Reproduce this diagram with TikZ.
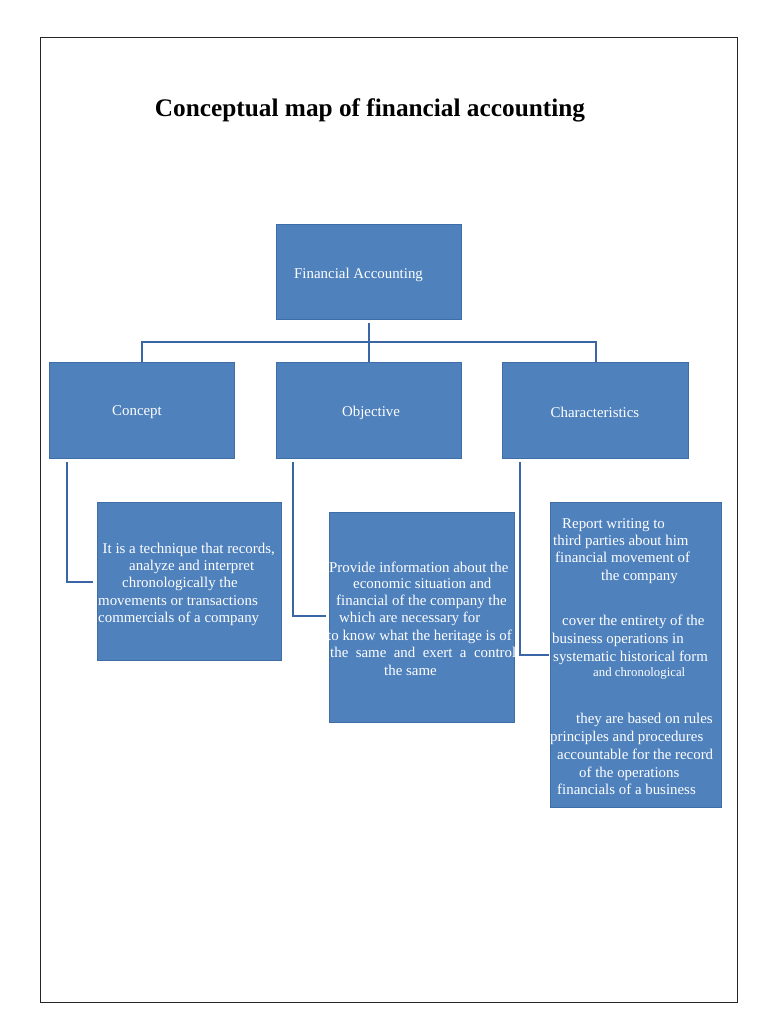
\documentclass[tikz,border=0pt]{standalone}
\usepackage{fontspec}
\setmainfont{Liberation Serif}
\definecolor{boxblue}{HTML}{4F81BD}
\definecolor{boxedge}{HTML}{3F6DA6}
\definecolor{linkblue}{HTML}{3A66A7}
\begin{document}
\begin{tikzpicture}[x=1pt,y=-1pt,
  bluebox/.style={draw=boxedge, line width=0.8pt, fill=boxblue, inner sep=0},
  link/.style={draw=linkblue, line width=2.6pt},
  ln/.style={anchor=base west, inner sep=0, text=white, font=\fontsize{14.9}{17}\selectfont},
  lbl/.style={inner sep=0, text=white, font=\fontsize{14.9}{17}\selectfont}]
\useasboundingbox (0,0) rectangle (768,1024);
\fill[white] (0,0) rectangle (768,1024);
\node[draw=black!85, line width=1pt, inner sep=0, minimum width=697pt, minimum height=965pt, anchor=north west] (frame) at (39.5,37) {};
\node[inner sep=0, font=\fontsize{25.3}{30}\selectfont\bfseries] (title) at (370,110) {Conceptual map of financial accounting};
% boxes
\node[bluebox, minimum width=185pt, minimum height=95pt, anchor=north west] (fa) at (276,224) {};
\node[bluebox, minimum width=185pt, minimum height=96pt, anchor=north west] (concept) at (49,362) {};
\node[bluebox, minimum width=185pt, minimum height=96pt, anchor=north west] (objective) at (276,362) {};
\node[bluebox, minimum width=186pt, minimum height=96pt, anchor=north west] (charac) at (502,362) {};
\node[bluebox, minimum width=184pt, minimum height=158pt, anchor=north west] (cbox) at (97,502) {};
\node[bluebox, minimum width=185pt, minimum height=210pt, anchor=north west] (obox) at (329,512) {};
\node[bluebox, minimum width=171pt, minimum height=305pt, anchor=north west] (chbox) at (550,502) {};
% labels
\node[ln] (falbl) at (294,278) {Financial Accounting};
\node[lbl] (conceptlbl) at (137,412.5) {Concept};
\node[lbl] (objlbl) at (371,412.5) {Objective};
\node[lbl] (charlbl) at (595,412.5) {Characteristics};
% connectors
\coordinate (hl) at (142,342);
\coordinate (hr) at (596,342);
\draw[link] ([yshift=-3pt]fa.south) -- (objective.north);
\draw[link] (concept.north -| hl) -- (hl) -- (hr) -- (charac.north -| hr);
\coordinate (c1) at (67,582);
\coordinate (o1) at (293,616);
\coordinate (h1) at (520,655);
\draw[link] ([yshift=-3pt]concept.south -| c1) -- (c1) -- ([xshift=-4pt]cbox.west |- c1);
\draw[link] ([yshift=-3pt]objective.south -| o1) -- (o1) -- ([xshift=-3pt]obox.west |- o1);
\draw[link] ([yshift=-3pt]charac.south -| h1) -- (h1) -- ([xshift=-1pt]chbox.west |- h1);
% concept text
\node[ln] (ct1) at (102.5,553) {It is a technique that records,};
\node[ln] (ct2) at (129,570) {analyze and interpret};
\node[ln] (ct3) at (122,587) {chronologically the};
\node[ln] (ct4) at (98,605) {movements or transactions};
\node[ln] (ct5) at (98,622) {commercials of a company};
% objective text
\node[ln] (ot1) at (329,572) {Provide information about the};
\node[ln] (ot2) at (353,588) {economic situation and};
\node[ln] (ot3) at (336,605) {financial of the company the};
\node[ln] (ot4) at (339,622) {which are necessary for};
\node[ln] (ot5) at (327,640) {to know what the heritage is of};
\node[ln] (ot6) at (330,657) {\makebox[186pt][s]{the same and exert a control}};
\node[ln] (ot7) at (384,675) {the same};
% characteristics text
\node[ln] (ht1) at (562,528) {Report writing to};
\node[ln] (ht2) at (553,545) {third parties about him};
\node[ln] (ht3) at (555,562) {financial movement of};
\node[ln] (ht4) at (601,580) {the company};
\node[ln] (ht5) at (562,625) {cover the entirety of the};
\node[ln] (ht6) at (552,643) {business operations in};
\node[ln] (ht7) at (553,661) {systematic historical form};
\node[ln, font=\fontsize{12.8}{15}\selectfont] (ht8) at (593,676) {and chronological};
\node[ln] (ht9) at (576,723) {they are based on rules};
\node[ln] (ht10) at (550,741) {principles and procedures};
\node[ln] (ht11) at (557,759) {accountable for the record};
\node[ln] (ht12) at (579,777) {of the operations};
\node[ln] (ht13) at (557,794) {financials of a business};
\end{tikzpicture}
\end{document}
